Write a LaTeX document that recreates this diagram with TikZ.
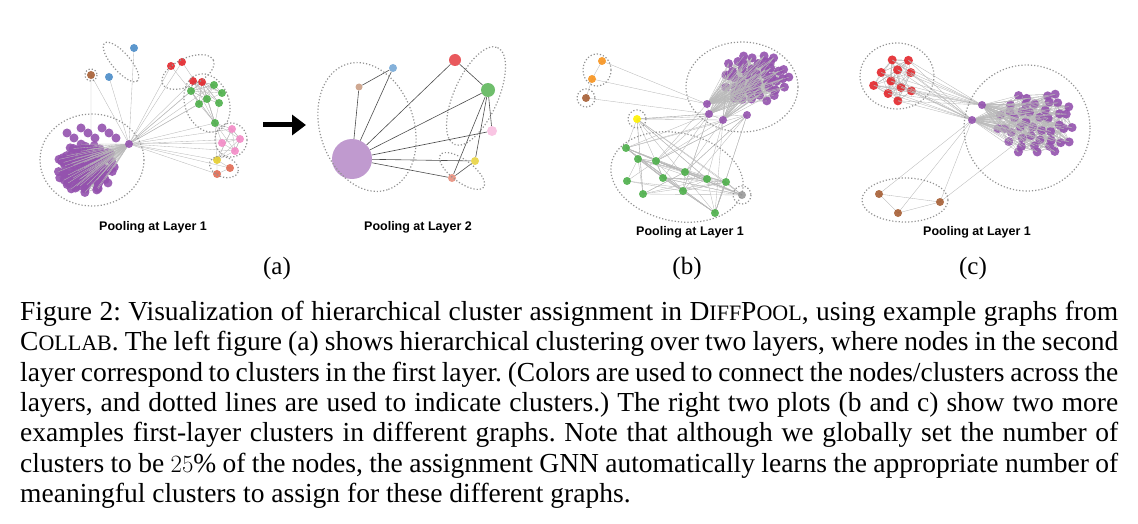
\documentclass[tikz,border=0pt]{standalone}
\usepackage{fontspec}
\setmainfont{Liberation Serif}
\newfontfamily\sansb{Liberation Sans}
\usetikzlibrary{positioning, arrows.meta}

\definecolor{cpurple}{HTML}{9452AE}
\definecolor{cred}{HTML}{E3262B}
\definecolor{cgreen}{HTML}{4DAF4A}
\definecolor{cblue}{HTML}{4A8CC8}
\definecolor{cbrown}{HTML}{A65E34}
\definecolor{cpink}{HTML}{F38BC6}
\definecolor{cyellow}{HTML}{E6CE2E}
\definecolor{csalmon}{HTML}{E06A52}
\definecolor{corange}{HTML}{F7931E}
\definecolor{cgray}{HTML}{999999}

\tikzset{
  dot/.style={circle, inner sep=0pt, minimum size=#1, fill opacity=.9},
  dot/.default=8pt,
  edge/.style={gray!55, line width=.35pt},
  bigedge/.style={gray!60!black, line width=.6pt},
  hull/.style={gray!85, dotted, line width=1.2pt},
  plabel/.style={font=\sansb\bfseries\fontsize{12.5}{14}\selectfont},
  sublabel/.style={font=\fontsize{25}{28}\selectfont}
}

% spiral cluster: prefix, cx, cy, rx, ry, count, colour
\newcommand\randblob[7]{%
  \foreach \i in {1,...,#6}{
    \pgfmathsetmacro\ang{\i*137.508+rnd*20}\pgfmathsetmacro\rr{sqrt((\i-.5)/#6)}
    \coordinate (#1\i) at ({#2+#4*\rr*cos(\ang)+rand},{#3+#5*\rr*sin(\ang)+rand});
  }
  \foreach \i in {1,...,#6}{
    \foreach \k in {1,...,6}{
      \pgfmathtruncatemacro\j{random(1,#6)}
      \draw[edge] (#1\i) -- (#1\j);
    }
  }
  \foreach \i in {1,...,#6}
    \node[dot=9pt, fill=#7] at (#1\i) {};
}
% connect one node to every node of a cluster
\newcommand\hubto[3]{%
  \foreach \i in {1,...,#3}
    \draw[edge] (#1) -- (#2\i);
}
% random edges between listed nodes
\newcommand\mesh[2]{%
  \foreach \a in {#1}{
    \foreach \b in {#1}{
      \pgfmathtruncatemacro\ok{rnd<#2}
      \ifnum\ok=1 \draw[edge] (\a) -- (\b);\fi
    }
  }
}

\begin{document}
\begin{tikzpicture}[x=1pt, y=-1pt]
\useasboundingbox (0,0) rectangle (1138,524);
\pgfmathsetseed{7}

% ---------- (a) layer 1 ----------
\foreach \n/\x/\y in {aBr/91/75, aB1/109/77, aB2/134/48,
    aR1/171/66, aR2/182/62, aR3/193/81, aR4/202/82,
    aG1/191/91, aG2/214/85, aG3/222/93, aG4/199/104, aG5/207/99, aG6/219/103, aG7/215/123,
    aP1/232/129, aP2/240/139, aP3/222/143, aP4/235/151,
    aY/217/160, aS1/230/168, aS2/217/174, aHub/129/144}
  \coordinate (\n) at (\x,\y);
\mesh{aR3,aR4,aG1,aG2,aG3,aG4,aG5,aG6,aG7}{.6}
\mesh{aP1,aP2,aP3,aP4,aG7,aY}{.5}
\foreach \n in {aR1,aR2,aR3,aR4,aG1,aG2,aG4,aG5,aG7,aP1,aP2,aP3,aP4,aY,aS1,aS2,aB1}
  \draw[edge] (aHub) -- (\n);
\draw[edge] (aBr) -- (aHub) (aB2) -- (aHub) (aR1) -- (aG1) (aR2) -- (aG5) (aBr) -- ++(0,60);
\draw[edge] (aY) -- (aS1) (aY) -- (aS2) (aS1) -- (aS2);
\randblob{ap}{86}{168}{29}{25}{95}{cpurple}
\foreach \i in {1,3,...,95} \draw[edge] (aHub) -- (ap\i);
\foreach \n/\c in {aBr/cbrown, aB1/cblue, aB2/cblue, aR1/cred, aR2/cred, aR3/cred, aR4/cred,
    aG1/cgreen, aG2/cgreen, aG3/cgreen, aG4/cgreen, aG5/cgreen, aG6/cgreen, aG7/cgreen,
    aP1/cpink, aP2/cpink, aP3/cpink, aP4/cpink, aY/cyellow, aS1/csalmon, aS2/csalmon, aHub/cpurple}
  \node[dot, fill=\c] at (\n) {};
\foreach \i in {1,...,8}
  \node[dot=9pt, fill=cpurple] at ({60+\i*7},{128+mod(\i,3)*5}) {};
\draw[hull] (92,160) ellipse (52 and 46);
\draw[hull] (91,75) circle (6);
\draw[hull, rotate around={-49:(121,62)}] (121,62) ellipse (25 and 9);
\draw[hull, rotate around={25:(188,72)}] (188,72) ellipse (28 and 14);
\draw[hull, rotate around={20:(207,103)}] (207,103) ellipse (22 and 30);
\draw[hull] (231,140) ellipse (16 and 17);
\draw[hull, rotate around={-20:(224,167)}] (224,167) ellipse (15 and 10);
\node[plabel] (la1) at (153,227) {Pooling at Layer 1};

% arrow
\coordinate (arrS) at (263,125);
\coordinate (arrE) at (306,125);
\draw[line width=5pt, -{Triangle[length=14pt, width=20pt]}] (arrS) -- (arrE);

% ---------- (a) layer 2 ----------
\node[dot=40pt, fill=cpurple!65] (bPu) at (352,159) {};
\node[dot=7pt, fill=cbrown!60] (bBr) at (359,87) {};
\node[dot=8pt, fill=cblue!75] (bBl) at (393,68) {};
\node[dot=12pt, fill=cred!85] (bRe) at (455,60) {};
\node[dot=14pt, fill=cgreen!90] (bGr) at (488,90) {};
\node[dot=10pt, fill=cpink!55] (bPi) at (492,131) {};
\node[dot=8pt, fill=cyellow!90] (bYe) at (475,161) {};
\node[dot=8pt, fill=csalmon!75] (bSa) at (452,178) {};
\foreach \a/\b in {bBr/bBl, bBr/bPu, bBl/bPu, bRe/bPu, bRe/bGr, bGr/bPu, bGr/bPi,
    bGr/bYe, bGr/bSa, bPi/bPu, bYe/bPu, bSa/bPu, bYe/bSa}
  \draw[bigedge] (\a) -- (\b);
\draw[hull, rotate around={-72:(367,127)}] (367,127) ellipse (66 and 47);
\draw[hull, rotate around={66:(476,96)}] (476,96) ellipse (53 and 22);
\draw[hull, rotate around={-37:(462,171)}] (462,171) ellipse (27 and 11);
\node[plabel] (la2) at (418,227) {Pooling at Layer 2};

% ---------- (b) ----------
\foreach \n/\x/\y in {cO1/602/61, cO2/592/79, cBr/586/98, cYe/637/119, cGy/742/195,
    cG1/626/148, cG2/638/159, cG3/656/161, cG4/627/181, cG5/643/194, cG6/663/178,
    cG7/685/172, cG8/683/191, cG9/707/179, cG10/726/182, cG11/715/213,
    cH1/707/104, cH2/709/114, cH3/723/120, cH4/747/115}
  \coordinate (\n) at (\x,\y);
\mesh{cG1,cG2,cG3,cG4,cG5,cG6,cG7,cG8,cG9,cG10,cG11,cGy,cYe}{.35}
\mesh{cH1,cH2,cH3,cH4,cG3,cG6,cG7,cG8,cG9,cG10,cG11,cGy,cG1,cYe}{.3}
\draw[edge] (cO1) -- (cO2) -- (cBr) (cO1) -- (cH1) (cO2) -- (cH1) (cBr) -- (cH2) (cYe) -- (cH2);
\randblob{bp}{755}{78}{34}{26}{48}{cpurple}
\foreach \i in {1,...,48} \draw[edge] (cH1) -- (bp\i);
\foreach \i in {2,4,...,48} \draw[edge] (cH2) -- (bp\i) (cH3) -- (bp\i);
\foreach \n/\c in {cO1/corange, cO2/corange, cBr/cbrown, cYe/yellow, cGy/cgray,
    cG1/cgreen, cG2/cgreen, cG3/cgreen, cG4/cgreen, cG5/cgreen, cG6/cgreen,
    cG7/cgreen, cG8/cgreen, cG9/cgreen, cG10/cgreen, cG11/cgreen,
    cH1/cpurple, cH2/cpurple, cH3/cpurple, cH4/cpurple}
  \node[dot, fill=\c] at (\n) {};
\draw[hull] (742,87) ellipse (56 and 45);
\draw[hull] (597,70) ellipse (14 and 16);
\draw[hull] (586,98) circle (9);
\draw[hull] (637,119) circle (9);
\draw[hull] (742,195) circle (9);
\draw[hull, rotate around={-12:(677,177)}] (677,177) ellipse (67 and 44);
\node[plabel] (lb) at (690,232) {Pooling at Layer 1};

% ---------- (c) ----------
\coordinate (dH1) at (982,105);
\coordinate (dH2) at (972,120);
\coordinate (dB1) at (879,194);
\coordinate (dB2) at (898,213);
\coordinate (dB3) at (940,202);
\randblob{dr}{895}{78}{26}{24}{11}{cred}
\hubto{dH1}{dr}{11}
\hubto{dH2}{dr}{11}
\randblob{dp}{1037}{124}{40}{34}{44}{cpurple}
\hubto{dH1}{dp}{44}
\hubto{dH2}{dp}{44}
\draw[edge] (dB1) -- (dB3) -- (dB2) -- (dB1) (dB1) -- (dH2) (dB2) -- (dH2) (dB3) -- (dH2) (dB3) -- (dp5);
\foreach \n/\c in {dH1/cpurple, dH2/cpurple, dB1/cbrown, dB2/cbrown, dB3/cbrown}
  \node[dot, fill=\c] at (\n) {};
\draw[hull] (897,76) ellipse (37 and 33);
\draw[hull] (1027,128) circle (63);
\draw[hull] (905,200) ellipse (43 and 22);
\node[plabel] (lc) at (977,232) {Pooling at Layer 1};

% sub-figure letters
\node[sublabel] (sa) at (277,268) {(a)};
\node[sublabel] (sb) at (687,268) {(b)};
\node[sublabel] (sc) at (973,268) {(c)};

% caption
\node[anchor=north west, inner sep=0pt, text width=1098pt, align=justify,
      font=\fontsize{27.5}{30.3}\selectfont\frenchspacing] (cap) at (20,301) {%
Figure 2: Visualization of hierarchical cluster assignment in D{\fontsize{22}{0}\selectfont IFF}P{\fontsize{22}{0}\selectfont OOL}, using example graphs from\linebreak
C{\fontsize{22}{0}\selectfont OLLAB}. The left figure (a) shows hierarchical clustering over two layers, where nodes in the second\linebreak
layer correspond to clusters in the first layer. (Colors are used to connect the nodes/clusters across the\linebreak
layers, and dotted lines are used to indicate clusters.) The right two plots (b and c) show two more\linebreak
examples first-layer clusters in different graphs. Note that although we globally set the number of\linebreak
clusters to be $25\%$ of the nodes, the assignment GNN automatically learns the appropriate number of\linebreak
meaningful clusters to assign for these different graphs.};
\end{tikzpicture}
\end{document}
